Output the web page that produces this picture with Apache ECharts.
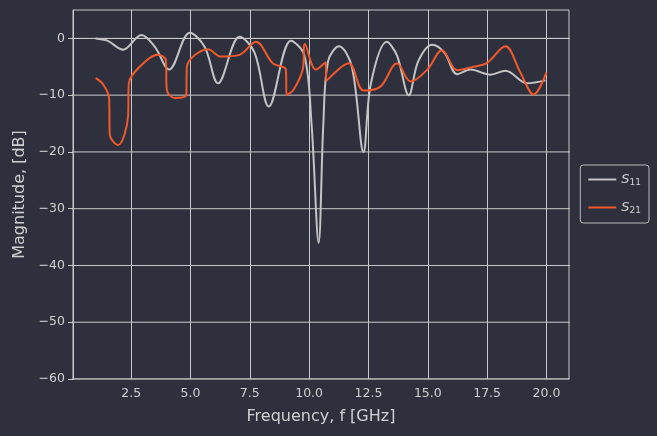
<!DOCTYPE html><html><head><meta charset="utf-8"><script src="https://cdn.jsdelivr.net/npm/echarts@6/dist/echarts.min.js"></script></head>
<body style="margin:0;background:#2e303e"><div id="c" style="width:657px;height:436px"></div><script>
const s11 = [[1,0],[1.5,-0.4],[2.16,-2.0],[2.93,0.6],[3.5,-1.5],[4.1,-5.5],[4.97,1.0],[5.6,-1.5],[6.16,-7.9],[7.07,0.3],[7.7,-2.5],[8.3,-12],[9.23,-0.4],[9.8,-3],[10.1,-15],[10.4,-36],[10.6,-15],[10.8,-4],[11.26,-1.4],[11.8,-5],[12.29,-20],[12.6,-8],[13.27,-0.6],[13.7,-3],[14.2,-10],[14.6,-4],[15.19,-1.1],[15.7,-2.5],[16.24,-6.3],[16.8,-5.5],[17.64,-6.4],[18.27,-5.7],[19.19,-7.9],[19.96,-7.4]];
const s21 = [[1,-7],[1.3,-8],[1.57,-10.5],[1.6,-17],[1.95,-18.8],[2.37,-13.7],[2.4,-8],[2.86,-5],[3.63,-2.9],[3.96,-3.8],[4.0,-9],[4.34,-10.5],[4.82,-10],[4.85,-5],[5.74,-1.9],[6.28,-3.2],[7.07,-2.9],[7.76,-0.6],[8.47,-4.4],[9.02,-5.5],[9.05,-10],[9.35,-9],[9.73,-5.5],[9.82,-1.0],[10.28,-5.5],[10.7,-4.2],[10.72,-7.5],[11.67,-4.4],[12.3,-9.2],[13.0,-8.5],[13.7,-4.4],[14.28,-7.6],[14.98,-5.5],[15.6,-2.1],[16.24,-5.6],[16.93,-5.0],[17.5,-4.3],[18.27,-1.4],[18.9,-6],[19.46,-9.9],[20,-6]];
const xTicks=[2.5,5,7.5,10,12.5,15,17.5,20];
const yTicks=[-60,-50,-40,-30,-20,-10,0];
const gc='#c9c9c9', tc='#d0d0d0';
const ch=echarts.init(document.getElementById('c'));
ch.setOption({backgroundColor:'#2e303e',animation:false,
grid:{left:73,right:88,top:10,bottom:57,show:true,borderColor:gc,borderWidth:1,backgroundColor:'transparent'},
legend:{orient:'vertical',right:8,top:165,itemWidth:28,itemHeight:2,itemGap:14,padding:[8,8],borderColor:'#bbb',borderWidth:1,borderRadius:3,backgroundColor:'#2e303e',
 textStyle:{color:tc,fontSize:13,fontFamily:'DejaVu Sans',fontStyle:'italic',rich:{s:{fontSize:9,color:tc,fontStyle:'normal',verticalAlign:'bottom',padding:[6,0,0,0]}}},
 formatter:n=>n==='S11'?'S{s|11}':'S{s|21}',data:[{name:'S11',icon:'rect'},{name:'S21',icon:'rect'}]},
xAxis:{type:'value',min:0.05,max:20.95,name:'Frequency, f [GHz]',nameLocation:'middle',nameGap:30,nameTextStyle:{color:tc,fontSize:16,fontFamily:'DejaVu Sans'},
 axisLine:{lineStyle:{color:gc}},axisTick:{show:true,customValues:xTicks,lineStyle:{color:gc}},splitLine:{show:true,lineStyle:{color:gc}},
 axisLabel:{color:tc,fontSize:12.5,fontFamily:'DejaVu Sans',customValues:xTicks,formatter:v=>v.toFixed(1)}},
yAxis:{type:'value',min:-60,max:5,name:'Magnitude, [dB]',nameLocation:'middle',nameGap:42,nameTextStyle:{color:tc,fontSize:16,fontFamily:'DejaVu Sans'},
 axisLine:{show:true,lineStyle:{color:gc}},axisTick:{show:true,customValues:yTicks,lineStyle:{color:gc}},splitLine:{show:false},
 axisLabel:{color:tc,fontSize:12.5,fontFamily:'DejaVu Sans',customValues:yTicks,formatter:v=>v<0?'−'+(-v):''+v}},
series:[
 ...yTicks.map(v=>({type:'line',data:[[0,v],[21,v]],silent:true,symbol:'none',lineStyle:{color:gc,width:1}})),
 {name:'S11',type:'line',data:s11,smooth:0.35,symbol:'none',lineStyle:{color:'#c4c4c4',width:2},itemStyle:{color:'#c4c4c4'}},
 {name:'S21',type:'line',data:s21,smooth:0.35,symbol:'none',lineStyle:{color:'#f0592a',width:2},itemStyle:{color:'#f0592a'}}
]});
</script></body></html>
